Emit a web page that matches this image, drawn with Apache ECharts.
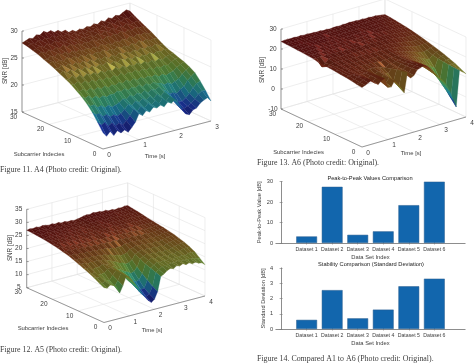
<!DOCTYPE html>
<html>
<head>
<meta charset="utf-8">
<script src="https://cdn.jsdelivr.net/npm/echarts@6/dist/echarts.min.js"></script>
<style>
  html, body { margin: 0; padding: 0; background: #fff; }
  #main { width: 474px; height: 363px; filter: blur(0.35px); }
</style>
</head>
<body>
<div id="main"></div>
<script>
// subcarrier rows run far to near, so they paint back to front
const subcarriers = [30, 28, 26, 24, 22, 20, 18, 16, 14, 12, 10, 8, 6, 4, 2, 0];

const timeA4 = [0, 0.1, 0.2, 0.3, 0.4, 0.5, 0.6, 0.7, 0.8, 0.9, 1, 1.1, 1.2, 1.3, 1.4, 1.5, 1.6, 1.7, 1.8, 1.9, 2, 2.1, 2.2, 2.3, 2.4, 2.5, 2.6, 2.7, 2.8, 2.9, 3];
const snrA4 = [
  [27.8, 28.0, 28.3, 28.1, 28.6, 28.4, 28.9, 28.5, 28.7, 28.2, 28.4, 27.9, 28.1, 27.5, 27.7, 27.3, 27.6, 27.4, 27.7, 27.5, 27.9, 27.6, 28.1, 27.8, 28.3, 28.0, 28.4, 28.2, 28.6, 28.9, 28.5],
  [27.6, 27.9, 27.7, 28.2, 27.9, 28.3, 28.0, 28.4, 27.9, 28.1, 27.7, 28.0, 27.5, 27.8, 27.3, 27.6, 27.2, 27.5, 27.3, 27.7, 27.2, 27.8, 27.4, 28.0, 27.6, 28.1, 27.7, 28.2, 27.9, 28.3, 27.9],
  [27.3, 27.5, 27.8, 27.4, 27.9, 27.5, 28.0, 27.6, 27.8, 27.3, 27.7, 27.2, 27.5, 27.0, 27.4, 27.1, 27.3, 26.9, 27.4, 27.0, 27.5, 27.1, 27.6, 27.2, 27.7, 27.3, 27.8, 27.4, 27.6, 27.8, 27.4],
  [27.0, 27.3, 26.9, 27.4, 27.0, 27.5, 27.1, 27.6, 27.0, 27.4, 26.9, 27.2, 26.7, 27.1, 26.8, 27.2, 26.7, 27.0, 26.6, 27.1, 26.8, 27.2, 26.9, 27.4, 26.9, 27.3, 27.0, 27.4, 27.1, 27.2, 26.9],
  [26.6, 26.4, 26.9, 26.5, 27.0, 26.6, 26.9, 26.4, 26.8, 26.3, 26.7, 26.2, 26.6, 26.2, 26.5, 26.1, 26.6, 26.2, 26.4, 26.0, 26.5, 26.1, 26.6, 26.2, 26.7, 26.3, 26.8, 26.4, 26.7, 26.3, 26.4],
  [26.2, 26.5, 26.1, 26.4, 26.0, 26.5, 26.1, 26.4, 25.9, 26.3, 25.8, 26.2, 25.7, 26.1, 25.8, 26.2, 25.7, 26.0, 25.6, 26.1, 25.7, 25.9, 25.5, 26.0, 25.7, 26.2, 25.8, 26.1, 25.7, 25.9, 25.8],
  [25.8, 25.6, 26.1, 25.6, 26.0, 25.5, 25.9, 25.4, 25.8, 25.3, 25.7, 25.2, 25.6, 25.2, 25.6, 25.1, 25.5, 25.1, 25.6, 25.2, 25.5, 25.0, 25.4, 25.0, 25.5, 25.1, 25.4, 25.0, 25.5, 25.1, 25.2],
  [25.3, 25.6, 25.1, 25.5, 25.0, 25.4, 24.9, 25.3, 24.8, 25.2, 24.7, 25.1, 24.8, 25.2, 24.6, 25.0, 24.6, 25.1, 24.7, 25.0, 24.5, 24.9, 24.4, 24.8, 24.5, 24.9, 24.4, 24.8, 24.5, 24.8, 24.7],
  [24.8, 24.5, 25.0, 24.4, 24.8, 24.2, 24.7, 24.3, 24.6, 24.1, 24.5, 24.0, 24.4, 24.0, 24.5, 24.0, 24.4, 23.9, 24.3, 23.9, 24.3, 23.8, 24.2, 23.7, 24.1, 23.7, 24.0, 23.6, 24.1, 24.3, 24.4],
  [24.3, 24.0, 24.4, 23.8, 24.2, 23.6, 24.0, 23.5, 23.9, 23.4, 23.8, 23.3, 23.8, 23.4, 23.9, 23.3, 23.7, 23.4, 23.8, 23.3, 23.6, 23.2, 23.6, 23.0, 23.4, 23.0, 23.3, 23.1, 23.6, 23.9, 24.0],
  [23.6, 23.2, 23.5, 22.9, 23.3, 22.7, 23.1, 22.6, 23.0, 22.5, 22.9, 22.6, 23.0, 22.6, 23.1, 22.6, 23.0, 22.5, 22.9, 22.5, 22.8, 22.4, 22.7, 22.1, 22.4, 22.0, 22.3, 22.5, 23.0, 23.4, 23.7],
  [22.9, 22.4, 22.7, 22.0, 22.3, 21.7, 22.0, 21.6, 21.9, 21.8, 22.2, 21.9, 22.3, 21.8, 22.2, 21.9, 22.3, 21.7, 22.2, 21.8, 22.1, 21.7, 21.6, 21.1, 21.3, 20.9, 21.2, 21.5, 22.2, 22.8, 23.2],
  [22.0, 21.4, 21.5, 20.8, 21.0, 20.4, 20.7, 20.2, 20.4, 20.7, 21.2, 21.0, 21.5, 21.1, 21.6, 21.2, 21.7, 21.1, 21.6, 21.3, 21.7, 21.0, 20.6, 19.9, 19.9, 19.6, 20.2, 20.6, 21.5, 22.1, 22.6],
  [20.9, 20.3, 20.3, 19.6, 19.8, 19.2, 19.4, 19.0, 19.3, 19.9, 20.6, 20.3, 20.9, 20.5, 21.0, 20.6, 21.1, 20.5, 21.1, 20.6, 21.2, 20.4, 19.6, 18.8, 18.7, 18.6, 19.1, 19.7, 20.6, 21.2, 21.5],
  [19.5, 18.8, 19.1, 18.3, 18.7, 18.0, 18.3, 17.8, 18.4, 19.2, 20.2, 19.7, 20.4, 19.9, 20.6, 20.2, 20.7, 20.0, 20.8, 20.2, 20.9, 20.0, 19.0, 18.1, 17.9, 18.2, 18.5, 19.2, 19.9, 20.3, 20.2],
  [18.0, 17.2, 17.9, 17.0, 17.7, 17.1, 17.5, 16.9, 17.6, 18.4, 19.8, 19.3, 20.0, 19.6, 20.3, 20.0, 20.4, 19.9, 20.6, 20.2, 20.7, 19.9, 18.6, 17.5, 17.2, 17.9, 18.1, 18.8, 19.2, 19.5, 18.7]
];

const timeA5 = [0, 0.125, 0.25, 0.375, 0.5, 0.625, 0.75, 0.875, 1, 1.125, 1.25, 1.375, 1.5, 1.625, 1.75, 1.875, 2, 2.125, 2.25, 2.375, 2.5, 2.625, 2.75, 2.875, 3, 3.125, 3.25, 3.375, 3.5, 3.625, 3.75, 3.875, 4];
const snrA5 = [
  [27.0, 27.2, 27.0, 27.3, 26.9, 27.2, 27.0, 26.7, 26.9, 26.5, 26.8, 26.3, 26.5, 26.1, 26.3, 26.0, 26.2, 26.4, 26.7, 26.9, 26.7, 27.1, 26.8, 26.9, 26.5, 26.7, 26.2, 26.4, 26.0, 26.3, 26.1, 26.4, 26.3],
  [26.9, 26.7, 27.1, 26.7, 27.0, 26.5, 26.9, 26.4, 26.7, 26.2, 26.6, 26.1, 26.4, 26.0, 26.2, 25.9, 26.1, 26.3, 26.6, 26.3, 26.7, 26.4, 26.7, 26.2, 26.5, 26.1, 26.4, 25.9, 26.2, 25.8, 26.1, 25.9, 26.0],
  [26.7, 26.9, 26.5, 26.9, 26.4, 26.8, 26.3, 26.6, 26.1, 26.5, 26.0, 26.3, 25.8, 26.2, 25.7, 26.1, 25.8, 26.2, 25.9, 26.4, 26.0, 26.4, 26.0, 26.3, 25.9, 26.1, 25.7, 26.0, 25.6, 25.9, 25.5, 25.8, 25.7],
  [26.5, 26.2, 26.6, 26.1, 26.5, 26.0, 26.4, 25.9, 26.3, 25.8, 26.1, 25.6, 26.0, 25.5, 25.9, 25.5, 25.9, 25.6, 26.0, 25.6, 26.1, 25.7, 26.0, 25.6, 25.8, 25.4, 25.7, 25.3, 25.6, 25.2, 25.5, 25.2, 25.3],
  [26.2, 26.4, 25.9, 26.2, 25.7, 26.1, 25.6, 26.0, 25.5, 25.9, 25.4, 25.7, 25.3, 25.6, 25.1, 25.6, 25.2, 25.6, 25.2, 25.7, 25.3, 25.6, 25.1, 25.4, 25.0, 25.4, 24.9, 25.2, 24.8, 25.1, 24.8, 25.0, 24.9],
  [25.9, 25.6, 26.0, 25.4, 25.8, 25.2, 25.7, 25.1, 25.5, 25.0, 25.4, 24.9, 25.3, 24.8, 25.2, 24.9, 25.4, 24.9, 25.3, 24.8, 25.2, 24.7, 25.1, 24.6, 25.0, 24.5, 24.9, 24.4, 24.7, 24.3, 24.6, 24.4, 24.6],
  [25.5, 25.7, 25.1, 25.4, 24.9, 25.2, 24.7, 25.1, 24.6, 25.0, 24.5, 24.9, 24.4, 24.8, 24.3, 24.8, 24.4, 24.9, 24.3, 24.7, 24.3, 24.6, 24.1, 24.5, 24.0, 24.4, 23.9, 24.2, 23.8, 24.1, 23.9, 24.2, 24.3],
  [25.0, 24.7, 25.1, 24.5, 24.9, 24.3, 24.7, 24.2, 24.6, 24.0, 24.4, 23.9, 24.3, 23.8, 24.2, 23.8, 24.2, 23.7, 24.1, 23.6, 24.0, 23.5, 23.9, 23.4, 23.8, 23.3, 23.7, 23.2, 23.5, 23.4, 23.7, 23.8, 24.0],
  [24.5, 24.2, 24.5, 23.9, 24.2, 23.6, 24.0, 23.5, 23.9, 23.3, 23.7, 23.2, 23.5, 22.8, 23.0, 22.4, 22.7, 22.5, 23.2, 23.0, 23.5, 23.0, 23.4, 22.8, 23.2, 22.7, 23.0, 22.6, 22.9, 23.0, 23.4, 23.5, 23.6],
  [23.8, 23.4, 23.6, 23.0, 23.3, 22.7, 23.1, 22.6, 23.0, 22.4, 22.6, 21.8, 21.9, 21.1, 21.2, 20.5, 20.6, 21.0, 22.0, 22.3, 22.9, 22.4, 22.8, 22.2, 22.5, 22.0, 22.4, 21.9, 22.4, 22.6, 22.9, 23.1, 23.2],
  [23.0, 22.6, 22.8, 22.1, 22.4, 22.1, 22.6, 22.0, 22.2, 21.3, 21.2, 20.3, 20.0, 19.1, 19.0, 18.2, 18.4, 19.2, 21.0, 21.5, 22.2, 21.6, 22.1, 21.5, 21.9, 21.3, 21.8, 21.2, 21.8, 22.1, 22.4, 22.6, 22.6],
  [22.2, 21.8, 21.9, 20.8, 21.2, 21.1, 21.8, 21.3, 21.2, 20.0, 19.6, 18.4, 17.8, 16.8, 16.3, 15.4, 15.8, 17.3, 20.0, 20.8, 21.5, 20.9, 21.3, 20.6, 21.1, 20.5, 21.0, 20.6, 21.2, 21.4, 21.8, 22.0, 22.0],
  [21.4, 20.8, 20.9, 19.6, 19.5, 19.8, 20.8, 21.2, 20.6, 19.0, 18.2, 16.9, 16.0, 14.8, 14.0, 13.2, 13.6, 15.6, 19.0, 20.0, 20.8, 20.1, 20.6, 20.0, 20.5, 19.9, 20.4, 20.1, 20.7, 20.6, 21.1, 21.2, 21.2],
  [20.4, 19.9, 20.1, 19.0, 18.2, 17.8, 19.4, 20.9, 20.4, 18.6, 17.4, 15.7, 14.4, 12.9, 12.0, 11.0, 11.4, 14.0, 18.4, 19.2, 20.0, 19.6, 20.0, 19.7, 20.2, 19.6, 20.0, 19.7, 20.2, 19.8, 20.3, 20.2, 20.2],
  [19.3, 18.8, 19.3, 18.6, 17.9, 16.4, 18.3, 20.7, 20.1, 18.4, 16.9, 15.1, 13.3, 11.6, 10.3, 9.2, 9.9, 12.6, 17.6, 18.4, 19.2, 19.3, 19.3, 19.6, 19.6, 19.8, 19.4, 19.5, 19.3, 19.3, 19.2, 18.9, 18.6],
  [18.3, 17.8, 18.7, 18.2, 17.5, 14.7, 17.2, 20.5, 19.8, 18.2, 16.4, 14.5, 12.4, 10.6, 9.0, 7.9, 8.8, 11.5, 16.9, 17.5, 18.5, 19.0, 18.6, 19.4, 19.0, 19.6, 18.9, 19.3, 18.6, 18.9, 18.2, 18.0, 17.0]
];

const timeA6 = timeA5;
const snrA6 = [
  [23.7, 23.9, 24.0, 23.8, 24.0, 23.7, 23.9, 23.6, 23.8, 23.5, 23.6, 23.3, 23.5, 23.1, 23.3, 23.0, 23.2, 23.3, 23.1, 23.4, 23.2, 23.5, 23.3, 23.4, 23.1, 23.3, 23.0, 23.2, 22.9, 23.0, 22.7, 22.5, 22.2],
  [23.6, 23.8, 23.6, 23.9, 23.6, 23.8, 23.5, 23.7, 23.4, 23.6, 23.2, 23.5, 23.1, 23.3, 23.0, 23.2, 23.0, 23.3, 23.0, 23.3, 23.1, 23.3, 23.0, 23.2, 23.0, 23.1, 22.8, 23.0, 22.7, 22.7, 22.4, 22.3, 22.0],
  [23.5, 23.6, 23.7, 23.4, 23.7, 23.4, 23.6, 23.3, 23.5, 23.2, 23.4, 23.0, 23.3, 23.0, 23.2, 22.9, 23.1, 22.8, 23.1, 22.9, 23.2, 22.9, 23.1, 22.8, 23.0, 22.8, 22.9, 22.6, 22.6, 22.3, 22.2, 21.9, 21.7],
  [23.3, 23.5, 23.3, 23.5, 23.2, 23.5, 23.1, 23.4, 23.0, 23.3, 23.0, 23.2, 22.8, 23.1, 22.8, 23.0, 22.7, 23.0, 22.7, 23.0, 22.7, 23.0, 22.6, 22.8, 22.6, 22.7, 22.4, 22.5, 22.1, 22.0, 21.7, 21.5, 21.3],
  [23.2, 23.0, 23.3, 23.0, 23.3, 22.9, 23.2, 22.9, 23.1, 22.7, 23.0, 22.6, 22.9, 22.6, 22.9, 22.5, 22.8, 22.5, 22.8, 22.5, 22.8, 22.4, 22.7, 22.4, 22.6, 22.2, 22.3, 21.9, 21.8, 21.5, 21.3, 21.0, 20.9],
  [22.9, 23.1, 22.8, 23.1, 22.7, 23.0, 22.7, 22.9, 22.5, 22.8, 22.4, 22.7, 22.4, 22.6, 22.3, 22.6, 22.2, 22.5, 22.2, 22.5, 22.2, 22.4, 22.1, 22.3, 22.0, 22.0, 21.7, 21.5, 21.2, 21.0, 20.7, 20.5, 20.4],
  [22.7, 22.5, 22.9, 22.5, 22.8, 22.4, 22.7, 22.3, 22.6, 22.2, 22.5, 22.1, 22.4, 22.0, 22.3, 22.0, 22.2, 21.9, 22.2, 21.8, 22.1, 21.8, 22.0, 21.6, 21.6, 21.2, 21.0, 20.7, 20.4, 20.2, 20.0, 19.8, 19.8],
  [22.0, 19.4, 20.8, 22.4, 22.5, 22.1, 22.4, 22.0, 22.3, 21.9, 22.2, 21.8, 22.1, 21.7, 22.0, 21.6, 21.9, 21.5, 21.8, 21.5, 21.7, 21.3, 21.4, 21.0, 20.9, 20.4, 20.2, 19.8, 19.5, 19.3, 19.2, 19.1, 19.2],
  [21.9, 21.0, 21.4, 22.0, 21.7, 22.1, 21.6, 21.9, 21.5, 21.8, 21.3, 21.6, 21.2, 21.5, 21.1, 21.4, 21.0, 21.3, 20.9, 21.3, 21.0, 20.9, 20.6, 20.3, 20.0, 19.5, 19.2, 18.6, 18.3, 18.2, 18.3, 18.4, 18.5],
  [21.8, 21.9, 21.6, 21.9, 21.4, 21.7, 21.2, 21.5, 21.0, 21.3, 20.8, 21.1, 20.7, 20.9, 20.5, 20.9, 20.5, 20.9, 20.4, 20.8, 20.6, 20.3, 19.8, 19.4, 18.9, 18.4, 17.8, 17.2, 16.7, 16.4, 16.9, 17.5, 17.8],
  [21.5, 21.6, 21.3, 21.6, 21.1, 21.3, 20.8, 21.0, 20.5, 20.7, 20.2, 20.5, 20.0, 20.2, 19.6, 20.3, 19.9, 20.4, 20.0, 20.5, 20.2, 19.7, 19.1, 18.5, 17.8, 17.1, 16.2, 15.3, 14.5, 14.0, 15.6, 16.5, 17.0],
  [21.2, 21.4, 21.2, 21.4, 20.8, 20.9, 20.4, 20.6, 19.6, 19.8, 19.7, 19.8, 18.9, 18.8, 18.0, 19.8, 19.2, 19.9, 20.0, 20.4, 20.0, 19.2, 18.4, 17.5, 16.6, 15.6, 14.6, 13.1, 11.9, 10.8, 15.1, 15.8, 16.2],
  [21.0, 21.2, 21.4, 21.3, 20.6, 20.4, 20.4, 20.6, 19.0, 18.6, 19.4, 18.8, 17.6, 17.0, 18.8, 19.4, 18.6, 19.8, 20.2, 20.6, 20.1, 19.0, 17.7, 16.4, 15.3, 14.0, 12.4, 10.4, 8.4, 6.4, 14.8, 15.2, 15.2],
  [20.6, 20.9, 21.5, 21.6, 20.4, 19.8, 20.3, 20.7, 18.0, 17.4, 19.0, 17.8, 16.2, 14.4, 19.6, 18.8, 18.8, 20.0, 20.7, 21.1, 20.5, 19.2, 17.5, 16.0, 14.5, 13.0, 11.0, 8.6, 5.6, 2.9, 14.5, 14.4, 14.2],
  [20.1, 20.6, 21.4, 21.8, 20.2, 19.3, 20.4, 20.8, 17.0, 16.6, 18.7, 17.1, 15.1, 12.7, 20.2, 18.2, 18.5, 20.3, 21.0, 21.5, 20.8, 19.3, 17.4, 15.6, 13.8, 12.2, 10.0, 7.0, 3.0, -0.4, 14.3, 13.7, 12.9],
  [19.7, 20.4, 21.2, 22.0, 20.0, 18.9, 20.4, 21.0, 16.0, 15.8, 18.4, 16.5, 14.0, 11.0, 20.8, 17.5, 18.2, 20.6, 21.2, 21.8, 21.0, 19.4, 17.2, 15.2, 13.2, 11.4, 9.0, 5.2, 0.5, -3.6, 14.2, 13.0, 11.6]
];

const datasets = ['Dataset 1', 'Dataset 2', 'Dataset 3', 'Dataset 4', 'Dataset 5', 'Dataset 6'];
const datasetIndex = [1, 2, 3, 4, 5, 6];
const peakToPeak = [3.2, 27.5, 4, 5.7, 18.5, 30];
const stdDev = [0.6, 2.55, 0.7, 1.27, 2.8, 3.3];

const subTicks = [0, 10, 20, 30];
const timeTicksA4 = [0, 1, 2, 3];
const timeTicksA5 = [0, 1, 2, 3, 4];
const zTicksA4 = [15, 20, 25, 30];
const zTicksA5 = [5, 10, 15, 20, 25, 30, 35];
const zTicksA6 = [-10, 0, 10, 20, 30];

const SANS = '"Liberation Sans", Arial, sans-serif';
const SERIF = '"Liberation Serif", "Times New Roman", serif';
const TXT = '#3d3d3d';

// surface colours, low snr to high snr
const ramp = [
  [0, 24, 22, 104], [0.12, 26, 50, 150], [0.26, 28, 125, 145], [0.38, 52, 140, 96],
  [0.5, 92, 132, 50], [0.63, 116, 112, 38], [0.76, 118, 76, 28], [0.88, 104, 38, 20], [1, 84, 14, 16]
];
function rampColor(n, lift, spec) {
  n = Math.max(0, Math.min(1, n));
  let k = 1;
  while (k < ramp.length - 1 && ramp[k][0] < n) k++;
  const a = ramp[k - 1], b = ramp[k], f = (n - a[0]) / (b[0] - a[0]);
  const c = [1, 2, 3].map(i => {
    const base = (a[i] + (b[i] - a[i]) * f) * lift;
    const pale = Math.min(255, base * 1.9 + 40);
    return Math.round(Math.min(255, base + (pale - base) * spec));
  });
  return 'rgb(' + c.join(',') + ')';
}

function makeView(o) {
  // o: pixel corners of the box, and the data ranges
  const tx = (o.end[0] - o.origin[0]) / o.tMax, ty = (o.end[1] - o.origin[1]) / o.tMax;
  const sx = (o.left[0] - o.origin[0]) / o.sMax, sy = (o.left[1] - o.origin[1]) / o.sMax;
  const zy = (o.top - o.left[1]) / (o.zMax - o.zMin);
  return Object.assign({}, o, {
    at: (t, s, z) => [o.origin[0] + tx * t + sx * s, o.origin[1] + ty * t + sy * s + zy * (z - o.zMin)]
  });
}

function surfaceSeries(view, time, snr) {
  const flat = snr.flat();
  const lo = Math.min.apply(null, flat), hi = Math.max.apply(null, flat);
  const cells = [];
  for (let r = 0; r < snr.length - 1; r++) {
    for (let c = time.length - 2; c >= 0; c--) cells.push([r, c]);
  }
  // how far a vertex stands out from its neighbours along both axes
  const bump = (r, c) => {
    const row = snr[r], up = snr[r - 1] || row, down = snr[r + 1] || row;
    const l = row[c - 1] === undefined ? row[c] : row[c - 1];
    const n = row[c + 1] === undefined ? row[c] : row[c + 1];
    return [row[c] - (l + n) / 2, row[c] - (up[c] + down[c]) / 2];
  };
  return {
    type: 'custom', coordinateSystem: 'cartesian2d', xAxisIndex: 0, yAxisIndex: 0,
    clip: false, silent: true, progressive: 0, animation: false, z: 3,
    data: cells,
    renderItem(params, api) {
      const [r, c] = cells[params.dataIndex];
      const zs = [snr[r][c], snr[r][c + 1], snr[r + 1][c + 1], snr[r + 1][c]];
      const pts = [
        view.at(time[c], subcarriers[r], zs[0]),
        view.at(time[c + 1], subcarriers[r], zs[1]),
        view.at(time[c + 1], subcarriers[r + 1], zs[2]),
        view.at(time[c], subcarriers[r + 1], zs[3])
      ].map(p => api.coord(p));
      const mean = (zs[0] + zs[1] + zs[2] + zs[3]) / 4;
      const n = (mean - lo) / (hi - lo);
      const b = bump(r, c);
      const peak = Math.min(b[0], b[1]) / view.relief;
      const fall = ((zs[0] + zs[3]) - (zs[1] + zs[2])) / 2 / view.relief;
      const lift = Math.max(0.86, Math.min(1.04, 0.93 + 0.12 * fall));
      // glints are sparse and sit mostly in the middle of the colour range
      const mid = Math.max(0.15, 1 - Math.abs(n - view.glintAt) / 0.32);
      const spec = peak > 1 ? 0 : Math.max(0, Math.min(view.glint, (peak - 0.34) * 5)) * mid;
      const col = rampColor(n, lift, spec);
      return {
        type: 'polygon', shape: { points: pts },
        style: { fill: col, stroke: col, lineWidth: 0.3 }
      };
    }
  };
}

function frameSeries(view, tTicks, zTicks) {
  const gridCol = '#e3e3e3', axisCol = '#5c5c5c';
  const tMax = view.tMax, sMax = view.sMax, zMin = view.zMin, zMax = view.zMax;
  return {
    type: 'custom', coordinateSystem: 'cartesian2d', xAxisIndex: 0, yAxisIndex: 0,
    clip: false, silent: true, animation: false, z: 2,
    data: [0],
    renderItem(params, api) {
      const kids = [];
      const seg = (a, b, col, w) => {
        const p = api.coord(a), q = api.coord(b);
        kids.push({ type: 'line', shape: { x1: p[0], y1: p[1], x2: q[0], y2: q[1] }, style: { stroke: col, lineWidth: w } });
      };
      const label = (p, text, size, rot) => {
        const c = api.coord(p);
        kids.push({
          type: 'text', x: c[0], y: c[1], rotation: rot || 0,
          style: { text, fill: TXT, font: size + 'px ' + SANS, textAlign: 'center', textVerticalAlign: 'middle' }
        });
      };
      tTicks.forEach(t => {
        seg(view.at(t, 0, zMin), view.at(t, sMax, zMin), gridCol, 0.6);
        seg(view.at(t, sMax, zMin), view.at(t, sMax, zMax), gridCol, 0.6);
      });
      subTicks.forEach(s => {
        seg(view.at(0, s, zMin), view.at(tMax, s, zMin), gridCol, 0.6);
        seg(view.at(tMax, s, zMin), view.at(tMax, s, zMax), gridCol, 0.6);
      });
      zTicks.forEach(z => {
        seg(view.at(0, sMax, z), view.at(tMax, sMax, z), gridCol, 0.6);
        seg(view.at(tMax, sMax, z), view.at(tMax, 0, z), gridCol, 0.6);
      });
      seg(view.at(0, sMax, zMin), view.at(0, sMax, zMax), axisCol, 0.6);
      seg(view.at(0, sMax, zMin), view.at(0, 0, zMin), axisCol, 0.6);
      seg(view.at(0, 0, zMin), view.at(tMax, 0, zMin), axisCol, 0.6);
      zTicks.forEach(z => {
        const p = view.at(0, sMax, z);
        seg(p, [p[0] + 2, p[1]], axisCol, 0.6);
        label([p[0] - 8, p[1]], String(z), 6.5);
      });
      subTicks.forEach(s => {
        const p = view.at(0, s, zMin);
        label([p[0] - 8.5, p[1] + 5], String(s), 6.5);
      });
      tTicks.forEach(t => {
        const p = view.at(t, 0, zMin);
        label([p[0] + 6, p[1] + 6], String(t), 6.5);
      });
      label(view.zLabel, 'SNR [dB]', 6.3, Math.PI / 2);
      label(view.sLabel, 'Subcarrier Indecies', 5.9);
      label(view.tLabel, 'Time [s]', 5.9);
      return { type: 'group', children: kids };
    }
  };
}

const viewA4 = makeView({
  origin: [103, 149], end: [211, 121], left: [22, 112], top: 31,
  tMax: 3, sMax: 30, zMin: 15, zMax: 30, relief: 1, glint: 0.9, glintAt: 0.55,
  zLabel: [5, 71], sLabel: [39, 154], tLabel: [155, 156]
});
const viewA6 = makeView({
  origin: [362, 147], end: [466, 117], left: [281, 109], top: 29,
  tMax: 4, sMax: 30, zMin: -10, zMax: 30, relief: 0.8, glint: 0.6, glintAt: 0.85,
  zLabel: [262.5, 70], sLabel: [298.5, 152], tLabel: [411, 153]
});
const viewA5 = makeView({
  origin: [104, 322.5], end: [205, 296], left: [26.7, 287.7], top: 209.3,
  tMax: 4, sMax: 30, zMin: 5, zMax: 35, relief: 1, glint: 0.9, glintAt: 0.68,
  zLabel: [10, 248], sLabel: [43, 328], tLabel: [152, 330]
});

function barAxes(gridIndex, yMax, yInterval) {
  const axisLine = { lineStyle: { color: '#777', width: 0.6 } };
  const inTick = { inside: true, length: 1.5, lineStyle: { color: '#777', width: 0.6 } };
  return {
    x: [
      {
        type: 'value', gridIndex, min: -0.2, max: 7.2, position: 'bottom', splitLine: { show: false },
        axisLine, axisTick: Object.assign({ customValues: datasetIndex }, inTick),
        axisLabel: {
          customValues: datasetIndex, formatter: v => datasets[v - 1], margin: 4,
          fontFamily: SANS, fontSize: 5.2, color: TXT
        },
        name: 'Data Set Index', nameLocation: 'middle', nameGap: 11,
        nameTextStyle: { fontFamily: SANS, fontSize: 5.8, color: TXT }
      },
      {
        type: 'value', gridIndex, min: -0.2, max: 7.2, position: 'top', splitLine: { show: false },
        axisLine, axisTick: Object.assign({ customValues: datasetIndex }, inTick), axisLabel: { show: false }
      }
    ],
    y: [
      {
        type: 'value', gridIndex, min: 0, max: yMax, interval: yInterval, position: 'left', splitLine: { show: false },
        axisLine, axisTick: inTick,
        axisLabel: { margin: 3, fontFamily: SANS, fontSize: 5.6, color: TXT }
      },
      {
        type: 'value', gridIndex, min: 0, max: yMax, interval: yInterval, position: 'right', splitLine: { show: false },
        axisLine, axisTick: inTick, axisLabel: { show: false }
      }
    ]
  };
}

const topAxes = barAxes(1, 30, 10);
const lowAxes = barAxes(2, 4, 1);
topAxes.y[0].name = 'Peak-to-Peak Value [dB]';
lowAxes.y[0].name = 'Standard Deviation [dB]';
[[topAxes, 12], [lowAxes, 9]].forEach(([a, gap]) => {
  Object.assign(a.y[0], {
    nameLocation: 'middle', nameGap: gap,
    nameTextStyle: { fontFamily: SANS, fontSize: 5.7, color: TXT }
  });
});

function barSeries(xi, values) {
  return {
    type: 'bar', xAxisIndex: xi, yAxisIndex: xi, silent: true, animation: false, barWidth: 20.8,
    data: datasetIndex.map((d, i) => [d, values[i]]),
    itemStyle: { color: '#1266ad', borderColor: '#2d5f8f', borderWidth: 0.5 }
  };
}

function caption(text, left, top) {
  return { text, left, top, padding: 0, textStyle: { fontFamily: SERIF, fontSize: 7.9, fontWeight: 'normal', color: '#3c3c3c' } };
}
function plotTitle(text, cx, top) {
  return {
    text, left: cx, top, padding: 0, textAlign: 'center',
    textStyle: { fontFamily: SANS, fontSize: 5.7, fontWeight: 'normal', color: '#222' }
  };
}

const chart = echarts.init(document.getElementById('main'), null, { renderer: 'canvas' });
chart.setOption({
  animation: false,
  backgroundColor: '#fff',
  title: [
    caption('Figure 11. A4 (Photo credit: Original).', 0, 166),
    caption('Figure 13. A6 (Photo credit: Original).', 257, 159),
    caption('Figure 12. A5 (Photo credit: Original).', 0, 346),
    caption('Figure 14. Compared A1 to A6 (Photo credit: Original).', 257, 355),
    plotTitle('Peak-to-Peak Values Comparison', 370, 175),
    plotTitle('Stability Comparison (Standard Deviation)', 371, 261)
  ],
  grid: [
    { left: 0, top: 0, width: 474, height: 363, show: false },
    { left: 276, top: 181.7, width: 189, height: 61.3 },
    { left: 276, top: 268, width: 189, height: 61 }
  ],
  xAxis: [
    { type: 'value', gridIndex: 0, min: 0, max: 474, show: false },
    topAxes.x[0], topAxes.x[1], lowAxes.x[0], lowAxes.x[1]
  ],
  yAxis: [
    { type: 'value', gridIndex: 0, min: 0, max: 363, inverse: true, show: false },
    topAxes.y[0], topAxes.y[1], lowAxes.y[0], lowAxes.y[1]
  ],
  series: [
    frameSeries(viewA4, timeTicksA4, zTicksA4),
    surfaceSeries(viewA4, timeA4, snrA4),
    frameSeries(viewA6, timeTicksA5, zTicksA6),
    surfaceSeries(viewA6, timeA6, snrA6),
    frameSeries(viewA5, timeTicksA5, zTicksA5),
    surfaceSeries(viewA5, timeA5, snrA5),
    barSeries(1, peakToPeak),
    barSeries(3, stdDev)
  ]
});
</script>
</body>
</html>
